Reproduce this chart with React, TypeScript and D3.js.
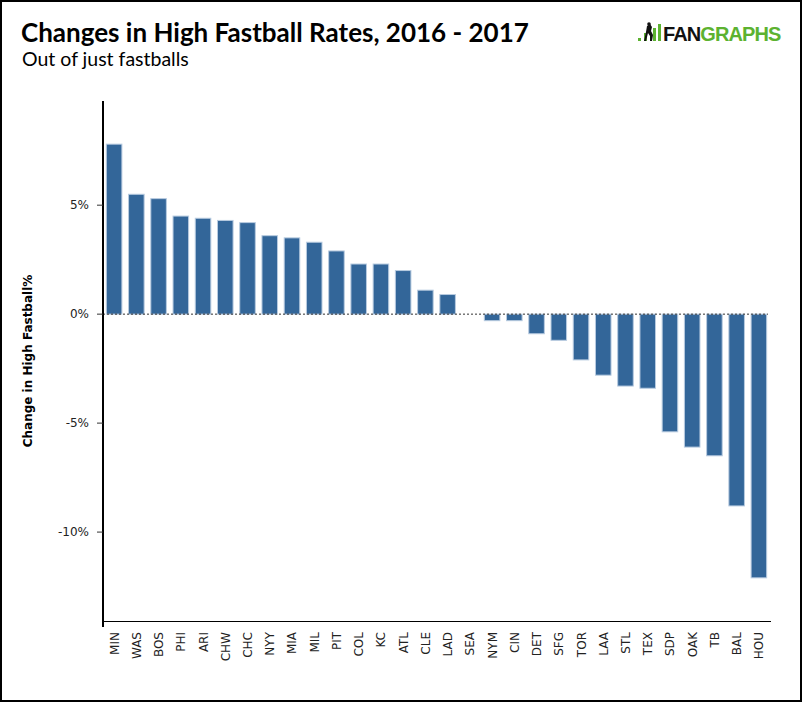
import * as d3 from 'd3'
import { FC } from 'react'

// change in high fastball rate, 2016 -> 2017 (percentage points)
const teams: string[] = [
    'MIN', 'WAS', 'BOS', 'PHI', 'ARI', 'CHW', 'CHC', 'NYY', 'MIA', 'MIL',
    'PIT', 'COL', 'KC', 'ATL', 'CLE', 'LAD', 'SEA', 'NYM', 'CIN', 'DET',
    'SFG', 'TOR', 'LAA', 'STL', 'TEX', 'SDP', 'OAK', 'TB', 'BAL', 'HOU',
]
const changes: number[] = [
    7.8, 5.5, 5.3, 4.5, 4.4, 4.3, 4.2, 3.6, 3.5, 3.3,
    2.9, 2.3, 2.3, 2.0, 1.1, 0.9, 0, -0.3, -0.3, -0.9,
    -1.2, -2.1, -2.8, -3.3, -3.4, -5.4, -6.1, -6.5, -8.8, -12.1,
]
const yTicks: number[] = [5, 0, -5, -10]

const width = 802
const height = 702
const margin = { top: 101, right: 32, bottom: 81, left: 103 }
const barColor = '#336699'
const tickFont = '"DejaVu Sans", Verdana, sans-serif'

const App: FC = () => {
    const x = d3.scaleBand()
        .domain(teams)
        .range([margin.left, width - margin.right])
        .paddingInner(0.3)
        .paddingOuter(0.15)

    const y = d3.scaleLinear()
        .domain([-14.08, 9.78])
        .range([height - margin.bottom, margin.top])

    const zero = y(0)

    return (
        <svg
            width={width}
            height={height}
            style={{ position: 'absolute', left: 0, top: 0, background: '#fff' }}
        >
            <rect x={1} y={1} width={width - 2} height={height - 2} fill="#fff" stroke="#000" strokeWidth={2} />

            {/* titles */}
            <text x={21} y={42} fontFamily="Lato, sans-serif" fontWeight="bold" fontSize={26} fill="#000">
                Changes in High Fastball Rates, 2016 - 2017
            </text>
            <text x={22} y={66} fontFamily="Lato, sans-serif" fontSize={19.5} fill="#000">
                Out of just fastballs
            </text>

            {/* fangraphs logo */}
            <g>
                <rect x={638} y={38} width={3} height={3} fill="#5cb230" />
                <rect x={644} y={33} width={3} height={8} fill="#5cb230" />
                <rect x={653} y={28} width={3} height={13} fill="#5cb230" />
                <rect x={658} y={24} width={3} height={17} fill="#5cb230" />
                <path d="M647 26 l3 -2 l2 3 l-1 4 l2 4 l-1 6 l-2 0 l0 -5 l-2 -3 l-2 8 l-2 0 l2 -9 z" fill="#111" />
                <circle cx={649} cy={24} r={1.8} fill="#111" />
                <text x={663} y={41} fontFamily="'Liberation Sans', Arial, sans-serif" fontWeight="bold" fontSize={20} letterSpacing={-0.9} fill="#111">
                    FAN<tspan fill="#5cb230">GRAPHS</tspan>
                </text>
            </g>

            {/* bars */}
            {teams.map((team, i) => {
                const v = changes[i]
                if (v === 0) return null
                return (
                    <rect
                        key={team}
                        x={x(team)}
                        y={Math.min(y(v), zero)}
                        width={x.bandwidth()}
                        height={Math.abs(y(v) - zero)}
                        fill={barColor}
                        stroke="#b8cbe0"
                        strokeWidth={1}
                    />
                )
            })}

            {/* zero line */}
            <line
                x1={margin.left}
                x2={width - margin.right - 2}
                y1={zero}
                y2={zero}
                stroke="#333"
                strokeWidth={1}
                strokeDasharray="2,2"
            />

            {/* x axis */}
            <line x1={margin.left} x2={width - margin.right + 1} y1={height - margin.bottom + 0.5} y2={height - margin.bottom + 0.5} stroke="#000" strokeWidth={1} />
            {teams.map(team => (
                <text
                    key={team}
                    transform={`translate(${x(team)! + x.bandwidth() / 2 + 4.5},${height - margin.bottom + 11}) rotate(-90)`}
                    textAnchor="end"
                    fontFamily={tickFont}
                    fontSize={12}
                    fill="#222"
                >
                    {team}
                </text>
            ))}

            {/* y axis */}
            <line x1={margin.left} x2={margin.left} y1={margin.top} y2={height - margin.bottom + 6} stroke="#000" strokeWidth={2} />
            {yTicks.map(t => (
                <g key={t} transform={`translate(0,${y(t)})`}>
                    <line x1={margin.left - 6} x2={margin.left} stroke="#333" strokeWidth={1} />
                    <text x={margin.left - 14} dy="0.35em" textAnchor="end" fontFamily={tickFont} fontSize={12} fill="#222">
                        {`${t}%`}
                    </text>
                </g>
            ))}
            <text
                transform={`translate(32,${361}) rotate(-90)`}
                textAnchor="middle"
                fontFamily={tickFont}
                fontWeight="bold"
                fontSize={12}
                fill="#000"
            >
                Change in High Fastball%
            </text>
        </svg>
    )
}

export default App
